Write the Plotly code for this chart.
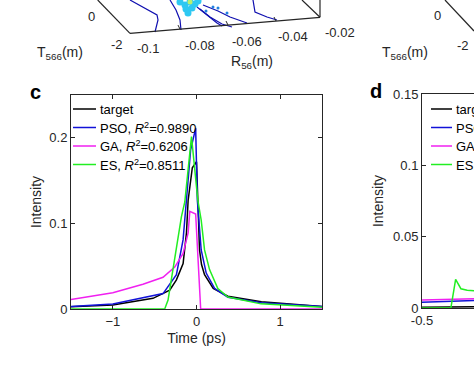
import plotly.graph_objects as go

W, H = 474, 387

# ---------------- panel c data (Time in ps, Intensity) ----------------
t_target = [-1.5, -1.0, -0.52, -0.32, -0.24, -0.16, -0.12, -0.10, -0.05, 0.0, 0.016, 0.036, 0.06, 0.096, 0.2, 0.375, 0.775, 1.5]
i_target = [0.0027, 0.0047, 0.0125, 0.022, 0.034, 0.053, 0.089, 0.127, 0.165, 0.172, 0.127, 0.069, 0.052, 0.040, 0.024, 0.015, 0.0086, 0.003]

t_pso = [-1.5, -1.0, -0.40, -0.24, -0.16, -0.12, -0.07, -0.01, 0.01, 0.056, 0.116, 0.216, 0.375, 0.775, 1.5]
i_pso = [0.003, 0.0058, 0.018, 0.040, 0.081, 0.127, 0.186, 0.211, 0.127, 0.069, 0.042, 0.024, 0.0137, 0.0074, 0.003]

t_ga = [-1.5, -1.0, -0.64, -0.40, -0.26, -0.16, -0.10, -0.08, -0.01, 0.05, 0.06, 1.5]
i_ga = [0.011, 0.019, 0.029, 0.037, 0.049, 0.065, 0.089, 0.114, 0.111, 0.0, 0.0, 0.0]

t_es = [-1.5, -0.42, -0.38, -0.34, -0.30, -0.24, -0.18, -0.14, -0.06, 0.016, 0.056, 0.096, 0.156, 0.255, 0.375, 0.77, 1.5]
i_es = [0.0, 0.0, 0.0, 0.0105, 0.034, 0.069, 0.108, 0.125, 0.2015, 0.127, 0.104, 0.069, 0.046, 0.024, 0.014, 0.006, 0.002]

# ---------------- panel d data (visible part only) ----------------
td_target = [-0.5, -0.29]
id_target = [0.0006, 0.0008]
td_pso = [-0.5, -0.4, -0.29]
id_pso = [0.0040, 0.0045, 0.0053]
td_ga = [-0.5, -0.4, -0.29]
id_ga = [0.0056, 0.0060, 0.0065]
td_es = [-0.5, -0.385, -0.366, -0.345, -0.32, -0.29]
id_es = [0.0, 0.0, 0.020, 0.0135, 0.0125, 0.012]

names_c = ["target", "PSO, <i>R</i><sup>2</sup>=0.9890", "GA, <i>R</i><sup>2</sup>=0.6206", "ES, <i>R</i><sup>2</sup>=0.8511"]
names_d = ["target", "PSO, <i>R</i><sup>2</sup>=0.9", "GA, <i>R</i><sup>2</sup>=0.5", "ES, <i>R</i><sup>2</sup>=0.8"]
colors = ["#000000", "#1212d8", "#f020f0", "#22ee22"]

xticks_c = [-1, 0, 1]
yticks_c = [0, 0.1, 0.2]
xticks_d = [-0.5, 0, 0.5]
yticks_d = [0, 0.05, 0.1, 0.15]

# remnants of the 3-D contour panels above (pixel coordinates)
contour_lines = [
    ([130, 143, 157, 158, 155], [0, 7, 15, 20, 32]),
    ([170, 176, 180, 181], [0, 10, 20, 30]),
    ([197, 207, 217, 222], [7, 15, 23, 26]),
    ([203, 218, 230, 247], [5, 11, 17, 23]),
    ([200, 210, 222, 232], [9, 17, 24, 27]),
    ([253, 255, 267, 277], [0, 12, 17, 20]),
]
blob_x = [180, 185, 190, 195, 186, 192, 198, 188]
blob_y = [2, 5, 2, 4, 9, 8, 1, 13]
dots_x = [213, 218, 227, 206]
dots_y = [7, 8, 13, 11]

FONT = "Liberation Sans, Arial, Helvetica, sans-serif"
AX = "#262626"

fig = go.Figure()

for x, y, n, c in zip([t_target, t_pso, t_ga, t_es], [i_target, i_pso, i_ga, i_es], names_c, colors):
    fig.add_trace(go.Scatter(x=x, y=y, mode="lines", name=n, line=dict(color=c, width=1.5),
                             xaxis="x", yaxis="y", showlegend=False))
for x, y, n, c in zip([td_target, td_pso, td_ga, td_es], [id_target, id_pso, id_ga, id_es], names_d, colors):
    fig.add_trace(go.Scatter(x=x, y=y, mode="lines", name=n, line=dict(color=c, width=1.5),
                             xaxis="x2", yaxis="y2", showlegend=False))

for cx, cy in contour_lines:
    fig.add_trace(go.Scatter(x=cx, y=cy, mode="lines", line=dict(color="#1010b0", width=1.2),
                             xaxis="x3", yaxis="y3", showlegend=False, hoverinfo="skip"))
fig.add_trace(go.Scatter(x=blob_x, y=blob_y, mode="markers", marker=dict(color="#2ec8f2", size=7),
                         xaxis="x3", yaxis="y3", showlegend=False, hoverinfo="skip"))
fig.add_trace(go.Scatter(x=[190], y=[2], mode="markers", marker=dict(color="#b8f070", size=5),
                         xaxis="x3", yaxis="y3", showlegend=False, hoverinfo="skip"))
fig.add_trace(go.Scatter(x=dots_x, y=dots_y, mode="markers", marker=dict(color="#2080e0", size=3),
                         xaxis="x3", yaxis="y3", showlegend=False, hoverinfo="skip"))

def dx(p):
    return p / W

def dy(p):
    return 1 - p / H

axis_common = dict(showline=True, linecolor=AX, linewidth=1, ticks="inside", ticklen=4,
                   tickcolor=AX, tickwidth=1, showgrid=False, zeroline=False,
                   tickfont=dict(family=FONT, size=13, color=AX))

fig.update_layout(
    width=W, height=H, margin=dict(l=0, r=0, t=0, b=0, autoexpand=False),
    paper_bgcolor="white", plot_bgcolor="rgba(0,0,0,0)", showlegend=False,
    font=dict(family=FONT, color=AX),
    xaxis=dict(domain=[dx(71), dx(322)], range=[-1.5, 1.5], tickvals=xticks_c, mirror="ticks",
               title=dict(text="Time (ps)", font=dict(size=14, family=FONT, color=AX), standoff=5),
               anchor="y", **axis_common),
    yaxis=dict(domain=[dy(309), dy(95)], range=[0, 0.25], tickvals=yticks_c, ticktext=["0", "0.1", "0.2"],
               mirror="ticks", title=dict(text="Intensity", font=dict(size=14, family=FONT, color=AX), standoff=4),
               anchor="x", **axis_common),
    xaxis2=dict(domain=[dx(422), 1.0], range=[-0.5, -0.5 + 52 / 251], tickvals=xticks_d, ticktext=["-0.5", "0", "0.5"],
                mirror="ticks", anchor="y2", **axis_common),
    yaxis2=dict(domain=[dy(308), dy(94)], range=[0, 0.15], tickvals=yticks_d, ticktext=["0", "0.05", "0.1", "0.15"],
                mirror=False, title=dict(text="Intensity", font=dict(size=14, family=FONT, color=AX), standoff=6),
                anchor="x2", **axis_common),
    xaxis3=dict(domain=[0, 1], range=[0, W], visible=False, anchor="y3", fixedrange=True),
    yaxis3=dict(domain=[0, 1], range=[H, 0], visible=False, anchor="x3", fixedrange=True),
)

# legends (line samples + labels), drawn in panel pixel positions
legend_rows = [109, 127.5, 146, 164.5]
for (lx0, lx1, tx, names) in [(73, 96, 97.5, names_c), (431, 452, 453.5, names_d)]:
    for row, n, c in zip(legend_rows, names, colors):
        fig.add_shape(type="line", xref="x3", yref="y3", x0=lx0, x1=lx1, y0=row, y1=row,
                      line=dict(color=c, width=1.5))
        fig.add_annotation(text=n, xref="x3", yref="y3", x=tx, y=row, xanchor="left", yanchor="middle",
                           showarrow=False, font=dict(family=FONT, size=13, color="#000000"))

# 3-D axis remnants
seg = [((97.7, 0), (130, 33.3)), ((130, 33.3), (320, 17.3)), ((320, 0), (320, 17.3)), ((302, 0), (320, 17.3)),
       ((445, 0), (474, 31))]
for (x0, y0), (x1, y1) in seg:
    fig.add_shape(type="line", xref="x3", yref="y3", x0=x0, y0=y0, x1=x1, y1=y1,
                  line=dict(color=AX, width=1.2))
for tx in [180, 228, 276]:
    ty = 33.3 - (tx - 130) * (16 / 190)
    fig.add_shape(type="line", xref="x3", yref="y3", x0=tx, y0=ty, x1=tx - 2, y1=ty - 4,
                  line=dict(color=AX, width=1))

labels3d = [("0", 91, 16), ("-2", 117, 44), ("-0.1", 148, 48), ("-0.08", 200, 45), ("-0.06", 247, 41),
            ("-0.04", 293, 36), ("-0.02", 340, 32), ("0", 437, 15), ("-2", 463, 45)]
for txt, x, y in labels3d:
    fig.add_annotation(text=txt, xref="x3", yref="y3", x=x, y=y, showarrow=False,
                       font=dict(family=FONT, size=13, color=AX))
fig.add_annotation(text="T<sub>566</sub>(m)", xref="x3", yref="y3", x=60, y=53, showarrow=False,
                   font=dict(family=FONT, size=14, color=AX))
fig.add_annotation(text="T<sub>566</sub>(m)", xref="x3", yref="y3", x=405, y=53, showarrow=False,
                   font=dict(family=FONT, size=14, color=AX))
fig.add_annotation(text="R<sub>56</sub>(m)", xref="x3", yref="y3", x=252, y=62, showarrow=False,
                   font=dict(family=FONT, size=14, color=AX))

fig.add_annotation(text="<b>c</b>", xref="x3", yref="y3", x=35, y=92, showarrow=False,
                   font=dict(family=FONT, size=20, color="#000000"))
fig.add_annotation(text="<b>d</b>", xref="x3", yref="y3", x=376, y=91, showarrow=False,
                   font=dict(family=FONT, size=20, color="#000000"))

fig.write_html("out.html", config={"displayModeBar": False},
               post_script="document.body.style.margin='0';document.body.style.overflow='hidden';")
